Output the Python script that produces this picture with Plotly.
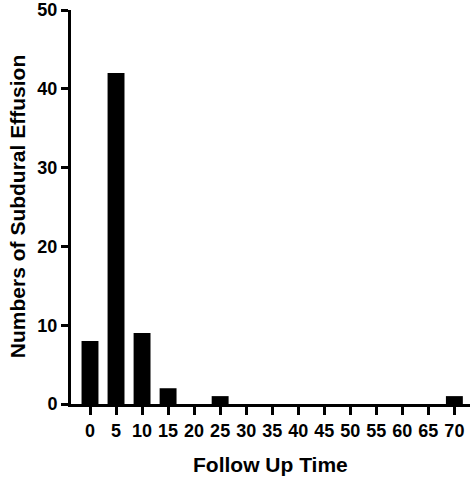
import plotly.graph_objects as go

# Follow-up time bins and counts
follow_up = [0, 5, 10, 15, 20, 25, 30, 35, 40, 45, 50, 55, 60, 65, 70]
counts = [8, 42, 9, 2, 0, 1, 0, 0, 0, 0, 0, 0, 0, 0, 1]
y_ticks = [0, 10, 20, 30, 40, 50]

font_family = "Liberation Sans, Arial, sans-serif"

fig = go.Figure(go.Bar(
    x=follow_up,
    y=counts,
    width=3.25,
    marker=dict(color="black", line=dict(width=0)),
))

fig.update_layout(
    width=474,
    height=481,
    margin=dict(l=71, r=4, t=10, b=77),
    plot_bgcolor="white",
    paper_bgcolor="white",
    showlegend=False,
    font=dict(family=font_family, size=18, color="black"),
)

fig.update_xaxes(
    range=[-3.65, 73],
    tickvals=follow_up,
    ticktext=[str(v) for v in follow_up],
    ticks="outside",
    ticklen=8,
    tickwidth=3,
    tickcolor="black",
    showline=True,
    linewidth=3,
    linecolor="black",
    showgrid=False,
    zeroline=False,
    automargin=False,
    ticklabeloverflow="allow",
    tickfont=dict(family=font_family, size=18, weight="bold"),
)

fig.update_yaxes(
    range=[0, 50],
    tickvals=y_ticks,
    ticks="outside",
    ticklen=7,
    tickwidth=3,
    tickcolor="black",
    showline=True,
    linewidth=3,
    linecolor="black",
    showgrid=False,
    zeroline=False,
    automargin=False,
    ticklabeloverflow="allow",
    tickfont=dict(family=font_family, size=18, weight="bold"),
)

# Axis titles
fig.add_annotation(
    text="<b>Follow Up Time</b>", xref="paper", yref="paper",
    x=0.5, y=-0.154, xanchor="center", yanchor="middle",
    showarrow=False, font=dict(size=21),
)
fig.add_annotation(
    text="<b>Numbers of Subdural Effusion</b>", xref="paper", yref="paper",
    x=-0.135, y=0.5, xanchor="center", yanchor="middle", textangle=-90,
    showarrow=False, font=dict(size=21),
)

# drop the page's default body margin so the figure fills the window
fig.write_html(
    "out.html",
    config={"displayModeBar": False},
    post_script="document.body.style.margin = '0';",
)
